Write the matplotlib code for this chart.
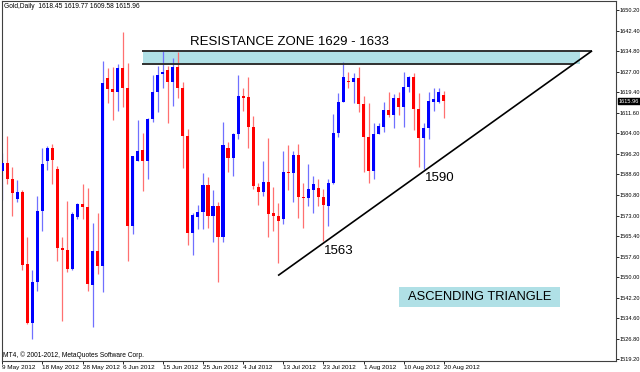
import numpy as np
import matplotlib
matplotlib.use("Agg")
import matplotlib.pyplot as plt

plt.rcParams["font.family"] = ["Liberation Sans", "DejaVu Sans"]

# Gold daily, 9 May 2012 - 20 Aug 2012 (one bar per trading day, Sunday bars included)
opens = [1589.89, 1592.65, 1586.64, 1579.25, 1582.01, 1554.86, 1532.83, 1548.22, 1574.88, 1593.52,
         1598.53, 1590.52, 1560.98, 1560.11, 1552.98, 1572.62, 1577.38, 1576.13, 1546.97, 1559.86,
         1554.23, 1624.55, 1620.55, 1619.55, 1628.31, 1620.80, 1569.12, 1593.52, 1597.65, 1593.52,
         1609.29, 1619.55, 1626.05, 1627.68, 1623.30, 1628.93, 1620.80, 1602.90, 1566.62, 1572.62,
         1574.25, 1584.51, 1573.00, 1576.75, 1565.11, 1598.28, 1594.52, 1603.65, 1618.05, 1617.67,
         1606.16, 1583.89, 1582.01, 1585.76, 1573.87, 1573.00, 1571.74, 1589.27, 1588.89, 1595.77,
         1579.88, 1579.51, 1582.63, 1583.51, 1580.13, 1576.63, 1585.14, 1603.91, 1615.79, 1623.68,
         1623.05, 1624.80, 1614.79, 1602.40, 1589.89, 1603.65, 1606.41, 1612.67, 1610.79, 1617.29,
         1613.67, 1621.42, 1625.18, 1612.92, 1602.03, 1605.78, 1615.79, 1615.79, 1618.45]
highs = [1596.65, 1602.90, 1591.39, 1586.39, 1582.63, 1564.86, 1552.60, 1580.38, 1598.28, 1599.15,
         1599.78, 1591.64, 1564.86, 1578.50, 1574.50, 1577.88, 1584.76, 1583.26, 1570.12, 1573.87,
         1631.18, 1628.31, 1628.93, 1629.81, 1642.07, 1630.18, 1595.40, 1608.91, 1603.91, 1609.54,
         1625.80, 1629.18, 1634.81, 1629.18, 1632.06, 1634.31, 1623.30, 1605.41, 1574.12, 1577.00,
         1588.89, 1587.64, 1582.63, 1578.25, 1608.04, 1600.78, 1603.91, 1625.80, 1620.80, 1624.93,
         1610.54, 1585.14, 1593.65, 1602.03, 1583.89, 1577.63, 1597.40, 1599.53, 1597.40, 1599.78,
         1585.14, 1592.39, 1587.89, 1586.64, 1582.88, 1586.64, 1611.04, 1618.92, 1630.81, 1627.05,
         1626.68, 1628.93, 1618.05, 1615.17, 1607.66, 1607.66, 1615.79, 1619.55, 1618.67, 1619.30,
         1627.05, 1625.43, 1626.43, 1619.17, 1607.91, 1619.55, 1620.80, 1620.80, 1619.77]
lows = [1578.88, 1584.89, 1572.87, 1578.25, 1552.60, 1532.33, 1526.70, 1544.84, 1567.37, 1590.14,
        1584.76, 1556.11, 1533.58, 1551.73, 1552.73, 1571.74, 1571.62, 1544.84, 1531.33, 1551.10,
        1544.47, 1615.17, 1608.91, 1612.29, 1613.92, 1555.86, 1565.99, 1593.52, 1582.38, 1586.76,
        1608.29, 1612.04, 1620.80, 1607.66, 1614.29, 1617.04, 1591.02, 1561.98, 1558.23, 1567.99,
        1567.99, 1568.24, 1562.98, 1548.22, 1562.98, 1589.52, 1587.89, 1601.65, 1612.41, 1598.28,
        1583.01, 1577.00, 1580.51, 1564.86, 1567.37, 1555.11, 1569.87, 1582.63, 1578.25, 1571.99,
        1568.24, 1576.75, 1574.12, 1576.75, 1563.61, 1569.24, 1584.76, 1602.65, 1615.54, 1620.80,
        1615.17, 1612.04, 1589.52, 1585.14, 1586.64, 1603.53, 1604.53, 1610.16, 1606.03, 1610.79,
        1606.41, 1619.55, 1605.16, 1591.39, 1590.52, 1601.65, 1612.41, 1615.17, 1609.58]
closes = [1592.65, 1586.64, 1581.63, 1582.01, 1554.48, 1532.83, 1547.97, 1574.88, 1592.27, 1598.53,
          1593.90, 1560.74, 1560.11, 1552.98, 1573.62, 1577.38, 1576.13, 1547.35, 1559.86, 1554.23,
          1622.68, 1620.42, 1619.55, 1628.31, 1620.80, 1569.12, 1595.40, 1597.27, 1593.52, 1609.29,
          1619.55, 1625.80, 1627.05, 1623.30, 1628.93, 1620.80, 1602.90, 1566.62, 1573.25, 1574.25,
          1584.51, 1573.00, 1576.75, 1565.11, 1599.53, 1594.52, 1603.65, 1618.05, 1617.29, 1606.16,
          1584.26, 1582.01, 1585.76, 1573.62, 1573.00, 1571.12, 1589.27, 1588.89, 1595.77, 1579.88,
          1579.51, 1582.88, 1584.76, 1580.13, 1577.00, 1585.14, 1603.91, 1615.79, 1624.93, 1623.05,
          1624.55, 1614.79, 1602.40, 1589.89, 1603.65, 1606.66, 1612.67, 1610.79, 1617.29, 1613.67,
          1621.42, 1625.18, 1612.92, 1602.03, 1605.78, 1616.04, 1616.79, 1619.55, 1615.96]

date_labels = ["9 May 2012", "18 May 2012", "28 May 2012", "6 Jun 2012", "15 Jun 2012",
               "25 Jun 2012", "4 Jul 2012", "13 Jul 2012", "23 Jul 2012", "1 Aug 2012",
               "10 Aug 2012", "20 Aug 2012"]
date_bars = [0, 8, 16, 24, 32, 40, 48, 56, 64, 72, 80, 88]

price_ticks = [1650.20, 1642.40, 1634.80, 1627.00, 1619.40, 1611.60, 1604.00, 1596.20, 1588.60,
               1580.80, 1573.00, 1565.40, 1557.60, 1550.00, 1542.20, 1534.60, 1526.80, 1519.20]

# drawing objects (bar index, price)
zone_bars = (28.0, 115.2)
zone_prices = (1629.8, 1634.7)
support_start = (55.1, 1550.7)
apex = (117.4, 1634.7)
low1_label = (67.1, 1559.7, "1563")
low2_label = (87.2, 1587.0, "1590")

o = np.array(opens)
h = np.array(highs)
l = np.array(lows)
c = np.array(closes)
x = np.arange(len(o))
up = c >= o
col = np.where(up, "#0000ff", "#ff0000")

fig = plt.figure(figsize=(6.4, 3.72), dpi=100)
ax = fig.add_axes([1.7 / 640, 11 / 372, 614.3 / 640, 360 / 372])
ax.set_xlim(-0.1, 122.3)
ax.set_ylim(1518.44, 1653.58)

# resistance zone
ax.fill_between(zone_bars, zone_prices[0], zone_prices[1], color="#b0e0e6", lw=0, zorder=1)
ax.plot([zone_bars[0], apex[0]], [zone_prices[1], zone_prices[1]], color="#303030", lw=1.4, zorder=4)
slope = (apex[1] - support_start[1]) / (apex[0] - support_start[0])
cross = support_start[0] + (zone_prices[0] - support_start[1]) / slope
ax.plot([zone_bars[0], cross], [zone_prices[0], zone_prices[0]], color="#303030", lw=1.4, zorder=4)
ax.plot([support_start[0], apex[0]], [support_start[1], apex[1]], color="black", lw=1.2, zorder=4)

# candles
wick_col = np.where(up, "#7070ff", "#ff7070")
ax.vlines(x, l, h, colors=wick_col, lw=0.9, zorder=2)
body_h = np.maximum(np.abs(c - o), 0.5)
ax.bar(x, body_h, bottom=np.minimum(o, c), width=0.62, color=col, lw=0, zorder=3)

# annotations
ax.text(37.5, 1638.3, "RESISTANCE ZONE 1629 - 1633", fontsize=9.5, va="center", ha="left")
ax.text(low1_label[0], low1_label[1], low1_label[2], fontsize=9.5, va="center", ha="center")
ax.text(low2_label[0], low2_label[1], low2_label[2], fontsize=9.5, va="center", ha="center")
ax.fill_between([79.1, 111.2], 1538.7, 1546.2, color="#b0e0e6", lw=0, zorder=1)
ax.text(95.1, 1542.5, "ASCENDING TRIANGLE", fontsize=9.3, va="center", ha="center")

# axes styling
for s in ax.spines.values():
    s.set_color("#404040")
    s.set_linewidth(0.8)
ax.yaxis.tick_right()
ax.set_yticks(price_ticks)
ax.set_yticklabels(["%.2f" % p for p in price_ticks])
ax.tick_params(axis="y", labelsize=4.1, length=2, pad=0.8, width=0.6)
ax.set_xticks(date_bars)
ax.set_xticklabels(date_labels)
for lab in ax.get_xticklabels():
    lab.set_ha("left")
ax.tick_params(axis="x", labelsize=4.6, length=2, pad=1, width=0.6)

# current price marker
ax.text(1.004, c[-1], "%.2f" % c[-1], transform=ax.get_yaxis_transform(), fontsize=4.1,
        color="white", va="center", ha="left",
        bbox=dict(boxstyle="square,pad=0.12", fc="black", ec="black"))

fig.text(4 / 640, 1 - 6 / 372, "Gold,Daily  %.2f %.2f %.2f %.2f" % (o[-1], h[-1], l[-1], c[-1]),
         fontsize=4.8, va="center", ha="left")
fig.text(3 / 640, 1 - 355 / 372, "MT4, \u00a9 2001-2012, MetaQuotes Software Corp.",
         fontsize=4.8, va="center", ha="left")

fig.savefig("out.png", dpi=100, facecolor="white")
